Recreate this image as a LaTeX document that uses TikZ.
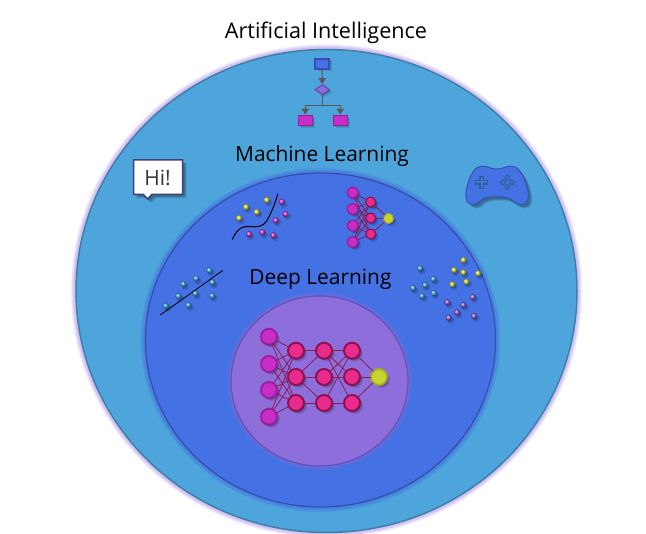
\documentclass[tikz,border=0pt]{standalone}
\usepackage{fontspec}
\setmainfont{Open Sans}
\usetikzlibrary{arrows.meta,shapes.geometric}
\definecolor{outerfill}{HTML}{4EA5DB}
\definecolor{outerline}{HTML}{3F80A8}
\definecolor{midfill}{HTML}{4471E3}
\definecolor{midline}{HTML}{3A4FAE}
\definecolor{innerfill}{HTML}{8D6EDB}
\definecolor{innerline}{HTML}{6A4FB5}
\definecolor{glow}{HTML}{C9B5F0}
\definecolor{edgered}{HTML}{8A1C55}
\definecolor{inpfill}{HTML}{C82DC8}
\definecolor{inpline}{HTML}{9A1F9C}
\definecolor{hidfill}{HTML}{E92C8C}
\definecolor{hidline}{HTML}{8A1050}
\definecolor{outfill}{HTML}{C9D42F}
\definecolor{outline}{HTML}{A5AD2A}
\definecolor{flowgray}{HTML}{595959}
\definecolor{ballyellow}{HTML}{D8E030}
\definecolor{ballpink}{HTML}{D02CC8}
\definecolor{ballcyan}{HTML}{3FA8D8}
\definecolor{ballpurple}{HTML}{8E58D0}
\definecolor{padmarkcol}{HTML}{2A6390}
\tikzset{
  softshadow/.style={
    preaction={fill=black,opacity=.10,draw=none,transform canvas={xshift=#1+1pt,yshift=-#1-1pt}},
    preaction={fill=black,opacity=.12,draw=none,transform canvas={xshift=#1,yshift=-#1}},
    preaction={fill=black,opacity=.14,draw=none,transform canvas={xshift=#1-.7pt,yshift=-#1+.7pt}}},
  softshadow/.default=2pt,
  lab/.style={inner sep=0pt,font=\fontsize{20.9}{25}\selectfont,text=black},
  neuron/.style={circle,inner sep=0pt,outer sep=0pt,softshadow},
  biginp/.style={neuron,minimum size=16pt,fill=inpfill,draw=inpline,line width=1.9pt},
  bighid/.style={neuron,minimum size=16pt,fill=hidfill,draw=hidline,line width=1.9pt},
  bigout/.style={neuron,minimum size=16pt,fill=outfill,draw=outline,line width=1.9pt},
  smallinp/.style={neuron,minimum size=11pt,fill=inpfill,draw=inpline,line width=1.4pt},
  smallhid/.style={neuron,minimum size=10pt,fill=hidfill,draw=hidline,line width=1.1pt},
  smallout/.style={neuron,minimum size=10pt,fill=outfill,draw=outline,line width=1.1pt},
  syn/.style={draw=edgered,line width=.8pt},
  flowblue/.style={rectangle,inner sep=0pt,minimum width=14pt,minimum height=10pt,fill=midfill,draw=midline,line width=1.4pt,softshadow=1.5pt},
  flowpink/.style={rectangle,inner sep=0pt,minimum width=14pt,minimum height=10pt,fill=inpfill,draw=inpline,line width=1.4pt,softshadow=1.5pt},
  flowdia/.style={diamond,aspect=1.5,inner sep=0pt,minimum width=15pt,minimum height=10pt,fill=innerfill,draw=innerline,line width=1.4pt,softshadow=1.5pt},
  flowline/.style={draw=flowgray,line width=1.2pt},
  flowarr/.style={flowline,-{Triangle[length=6pt,width=7.5pt]}},
  padmark/.style={draw=padmarkcol},
}
% dot with a drop shadow
\newcommand{\pebble}[3]{%
  \fill[black,opacity=.13] (#1+2,#2+2.6) circle[radius=3.6];
  \fill[black,opacity=.16] (#1+1.2,#2+1.6) circle[radius=2.9];
  \shade[ball color=#3] (#1,#2) circle[radius=3];
}
\begin{document}
\begin{tikzpicture}[x=1pt,y=-1pt]
\useasboundingbox (0,0) rectangle (646,534);
\fill[white] (0,0) rectangle (646,534);

% outer circle with glow
\foreach \w/\o in {10/.15,8/.25,6/.35,4/.6}{
  \draw[glow,line width=\w pt,opacity=\o] (326.5,291) ellipse[x radius=251,y radius=242];
}
\draw[fill=outerfill,draw=outerline,line width=1.5pt] (326.5,291) ellipse[x radius=250.5,y radius=241.5];

% middle circle
\foreach \w/\o in {9/.25,6/.3,3/.35}{
  \draw[midfill,line width=\w pt,opacity=\o] (320.5,340) ellipse[x radius=175.5,y radius=167.5];
}
\draw[fill=midfill,draw=midline,line width=1.3pt] (320.5,340) ellipse[x radius=175,y radius=167];

% inner circle
\foreach \w/\o in {8/.3,5/.35,3/.4}{
  \draw[innerfill!55!midfill,line width=\w pt,opacity=\o] (319.5,381) ellipse[x radius=89,y radius=85.5];
}
\draw[fill=innerfill,draw=innerline,line width=1.2pt] (319.5,381) ellipse[x radius=88.5,y radius=85];

% titles
\node[lab,font=\fontsize{21.6}{26}\selectfont] (ai) at (326,33) {Artificial Intelligence};
\node[lab] (ml) at (322,156.5) {Machine Learning};
\node[lab] (dl) at (320.5,279.5) {Deep Learning};

% flowchart
\node[flowblue] (fstart) at (322,64) {};
\node[flowdia] (fdec) at (322.3,89.7) {};
\node[flowpink] (fleft) at (305.3,120.3) {};
\node[flowpink] (fright) at (340.3,120.3) {};
\coordinate (ffork) at (322.3,105.3);
\draw[flowarr] (fstart) -- (fdec);
\draw[flowline] (fdec) -- (ffork);
\draw[flowarr] (ffork) -| (fleft);
\draw[flowarr] (ffork) -| (fright);

% speech bubble
\path[softshadow=3pt,fill=white,draw=black!70!blue!75!white,line width=1.5pt]
  (133.5,160) -- (182.5,160) -- (182.5,194.3) -- (152,194.3) -- (147.7,199) -- (143,194.3) -- (133.5,194.3) -- cycle;
\node[inner sep=0pt,font=\fontsize{21}{24}\selectfont,text=black!80] (hi) at (157.5,177.5) {Hi!};

% game pad
\begin{scope}[shift={(455,155)},x=.3333pt,y=-.3333pt]
  \path[softshadow=3pt,fill=midfill,draw=midline,line width=1pt]
    (70,36) .. controls (95,28) and (100,42) .. (125,42)
    .. controls (150,42) and (155,28) .. (180,36)
    .. controls (200,42) and (222,100) .. (220,125)
    .. controls (218,155) and (190,155) .. (170,135)
    .. controls (155,122) and (95,122) .. (80,135)
    .. controls (60,155) and (35,155) .. (33,125)
    .. controls (30,100) and (50,42) .. (70,36) -- cycle;
  \draw[padmark,line width=1.2pt,fill=midfill] (62,77) -- (75,77) -- (75,64) -- (85,64) -- (85,77) -- (98,77) -- (98,87) -- (85,87) -- (85,100) -- (75,100) -- (75,87) -- (62,87) -- cycle;
  \foreach \bx/\by in {157/68,157/96,144/82,171/82}
    \draw[padmark,line width=1.2pt,fill=midfill] (\bx,\by) circle[radius=6.5];
\end{scope}

% scatter with curve
\foreach \px/\py in {246/207,266.7/200,256.7/212,239/218}{\pebble{\px}{\py}{ballyellow}}
\foreach \px/\py in {281.7/201.7,285.7/214,275.7/220.3,249/234,262.3/232.3,273.3/235.3}{\pebble{\px}{\py}{ballpink}}
\draw[black,line width=1pt,line cap=round] (232.3,239.3) .. controls (238,227) and (244,226) .. (250,226.5) .. controls (258,227.5) and (263,226) .. (266,222) .. controls (270,216) and (275,204) .. (277.7,194.3);

% scatter with line
\foreach \px/\py in {209.3/270.3,196/278.3,183.3/284,212.3/282.3,178.3/296,195.3/293.3,212/295.7,165.7/305.7,188.3/305}{\pebble{\px}{\py}{ballcyan}}
\draw[black,line width=.8pt] (160.3,315) -- (223,270.3);

% clusters
\foreach \px/\py in {420/268.3,433.3/279,425/285,413/288,433.7/293,422/296}{\pebble{\px}{\py}{ballcyan}}
\foreach \px/\py in {463.3/260,454/270,463.3/272.3,478/273.3,452.3/284.3,466.3/281.7}{\pebble{\px}{\py}{ballyellow}}
\foreach \px/\py in {447.3/302.3,472.7/297,463.3/305,457/312.3,448.7/317.7,474/316}{\pebble{\px}{\py}{ballpurple}}

% small network
\foreach \n/\y in {1/192.7,2/209,3/225.7,4/242}{\node[smallinp] (si\n) at (352.7,\y) {};}
\foreach \n/\y in {1/202,2/218,3/234}{\node[smallhid] (sh\n) at (370.7,\y) {};}
\node[smallout] (so) at (388.5,218.5) {};
\foreach \a in {1,2,3,4}{\foreach \b in {1,2,3}{\draw[syn] (si\a) -- (sh\b);}}
\foreach \b in {1,2,3}{\draw[syn] (sh\b) -- (so);}

% large network
\foreach \n/\y in {1/336.7,2/364,3/390,4/416.7}{\node[biginp] (bi\n) at (269,\y) {};}
\foreach \n/\y in {1/350.7,2/377,3/403}{
  \node[bighid] (ba\n) at (296,\y) {};
  \node[bighid] (bb\n) at (324,\y) {};
  \node[bighid] (bc\n) at (352,\y) {};
}
\node[bigout] (bo) at (379,377) {};
\foreach \a in {1,2,3,4}{\foreach \b in {1,2,3}{\draw[syn] (bi\a) -- (ba\b);}}
\foreach \a/\b in {1/1,2/2,3/3,2/1,2/3}{\draw[syn] (ba\a) -- (bb\b);}
\foreach \a/\b in {1/1,2/2,3/3,1/2,1/3,3/1,2/1}{\draw[syn] (bb\a) -- (bc\b);}
\foreach \b in {1,2,3}{\draw[syn] (bc\b) -- (bo);}
\end{tikzpicture}
\end{document}
